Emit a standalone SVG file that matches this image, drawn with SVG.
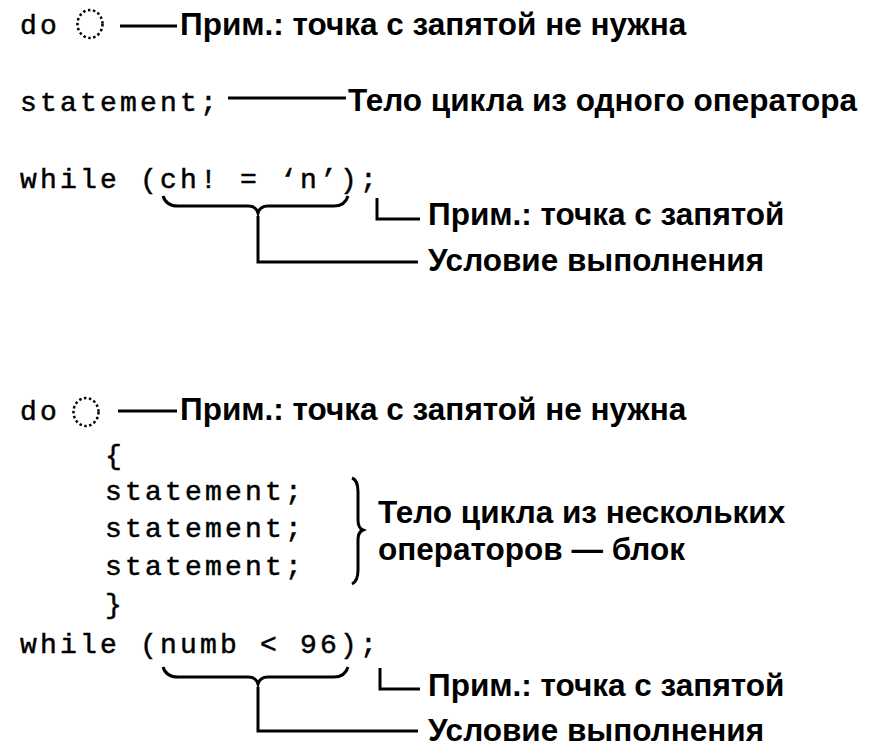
<svg xmlns="http://www.w3.org/2000/svg" width="884" height="754" viewBox="0 0 884 754">
<style>
.code{font-family:"Liberation Mono","Courier New",monospace;font-size:28px;letter-spacing:3.2px;fill:#000;stroke:#000;stroke-width:0.5}
.lbl{font-family:"Liberation Sans",Arial,sans-serif;font-size:31.5px;font-weight:bold;fill:#000}
.ln{stroke:#000;stroke-width:3;fill:none}
.dot{stroke:#000;stroke-width:2.5;fill:none;stroke-dasharray:2.5 2.5}
</style>
<rect width="884" height="754" fill="#fff"/>
<g id="code1">
<text class="code" x="20" y="34">do</text>
<text class="code" x="20" y="111">statement;</text>
<text class="code" x="20" y="188">while (ch! = ‘n’);</text>
</g>
<g id="code2">
<text class="code" x="20" y="420">do</text>
<text class="code" x="105" y="464">{</text>
<text class="code" x="105" y="500">statement;</text>
<text class="code" x="105" y="537">statement;</text>
<text class="code" x="105" y="575">statement;</text>
<text class="code" x="105" y="613">}</text>
<text class="code" x="20" y="653">while (numb &lt; 96);</text>
</g>
<g id="circle1"><ellipse class="dot" cx="90" cy="24" rx="12.5" ry="14"/></g>
<g id="circle2"><ellipse class="dot" cx="86" cy="412" rx="12.5" ry="14"/></g>
<g id="label-nosemi1"><text class="lbl" x="180" y="35">Прим.: точка с запятой не нужна</text></g>
<g id="label-body1"><text class="lbl" x="348" y="111">Тело цикла из одного оператора</text></g>
<g id="label-semi1"><text class="lbl" x="428" y="225">Прим.: точка с запятой</text></g>
<g id="label-cond1"><text class="lbl" x="428" y="271">Условие выполнения</text></g>
<g id="label-nosemi2"><text class="lbl" x="180" y="420">Прим.: точка с запятой не нужна</text></g>
<g id="label-body2"><text class="lbl" x="378" y="523">Тело цикла из нескольких</text><text class="lbl" x="378" y="560">операторов — блок</text></g>
<g id="label-semi2"><text class="lbl" x="428" y="696">Прим.: точка с запятой</text></g>
<g id="label-cond2"><text class="lbl" x="428" y="741">Условие выполнения</text></g>
<g id="connectors">
<path class="ln" d="M120,26 H177"/>
<path class="ln" d="M228,98 H346"/>
<path class="ln" d="M163,196 Q166,206 178,206 L248,206 Q256,206 258,213 Q260,206 268,206 L334,206 Q345,206 348,196"/>
<path class="ln" d="M258,216 V262 H418"/>
<path class="ln" d="M377,198 V219 H420"/>
<path class="ln" d="M118,411 H177"/>
<path class="ln" d="M352,478 Q358,480 358,492 L358,520 Q358,528 363,530 Q358,532 358,540 L358,570 Q358,581 352,584"/>
<path class="ln" d="M163,667 Q166,677 178,677 L248,677 Q256,677 258,684 Q260,677 268,677 L334,677 Q345,677 348,667"/>
<path class="ln" d="M258,687 V731 H418"/>
<path class="ln" d="M380,668 V689 H420"/>
</g>
</svg>
